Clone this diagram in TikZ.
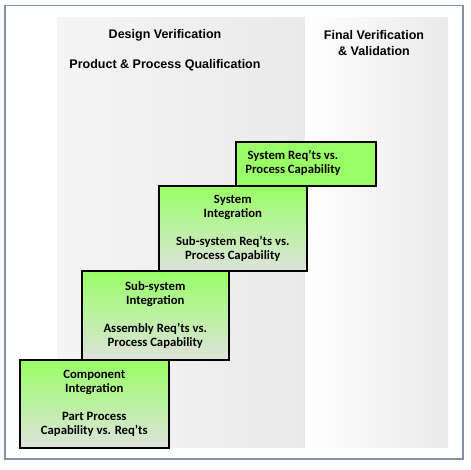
\documentclass[tikz,border=0pt]{standalone}
\usepackage{fontspec}
\setmainfont{Carlito}
\newfontfamily\headfont{Liberation Sans}
\definecolor{stagegreen}{HTML}{99FF66}
\definecolor{stagegray}{HTML}{DDE3DB}
\definecolor{panelgray}{HTML}{EAEAEA}
\definecolor{framegray}{HTML}{8491A6}
\tikzset{
    stage/.style = {draw, line width = 1.6pt, anchor = north west, align = center,
                    top color = stagegreen, bottom color = stagegray,
                    font = \fontsize{12.7}{14}\selectfont\bfseries},
    head/.style = {align = center, font = \headfont\fontsize{12.5}{16}\selectfont\bfseries}
}
\begin{document}
\begin{tikzpicture}[x = 1pt, y = -1pt]
    \useasboundingbox (0, 0) rectangle (470, 470);
    \draw [framegray, line width = 1.3pt] (5, 5.5) rectangle (463, 459);
    \shade [left color = white!96!black, right color = panelgray] (57, 18) rectangle (305, 447);
    \shade [left color = white, right color = panelgray] (305, 18) rectangle (448, 447);
    \node [head] (design) at (165, 35) {Design Verification};
    \node [head] (qualif) at (165, 65) {Product \& Process Qualification};
    \node [head] (final) at (374, 43) {Final Verification\\\& Validation};
    \node [stage, minimum width = 149pt, minimum height = 88pt] (comp) at (19, 359)
        {Component\\Integration\\[14pt]Part Process\\Capability vs. Req’ts};
    \node [stage, minimum width = 147pt, minimum height = 89pt] (subsys) at (81, 270)
        {Sub-system\\Integration\\[14pt]Assembly Req’ts vs.\\Process Capability};
    \node [stage, minimum width = 148pt, minimum height = 85pt] (sys) at (158, 185)
        {System\\Integration\\[14pt]Sub-system Req’ts vs.\\Process Capability};
    \node [stage, fill = stagegreen, shade = none, minimum width = 140pt, minimum height = 44pt] (sysreq) at (235, 141) {};
    \node [align = center, font = \fontsize{12.7}{14}\selectfont\bfseries] (sysreqtext) at (293, 163)
        {System Req’ts vs.\\Process Capability};
\end{tikzpicture}
\end{document}
